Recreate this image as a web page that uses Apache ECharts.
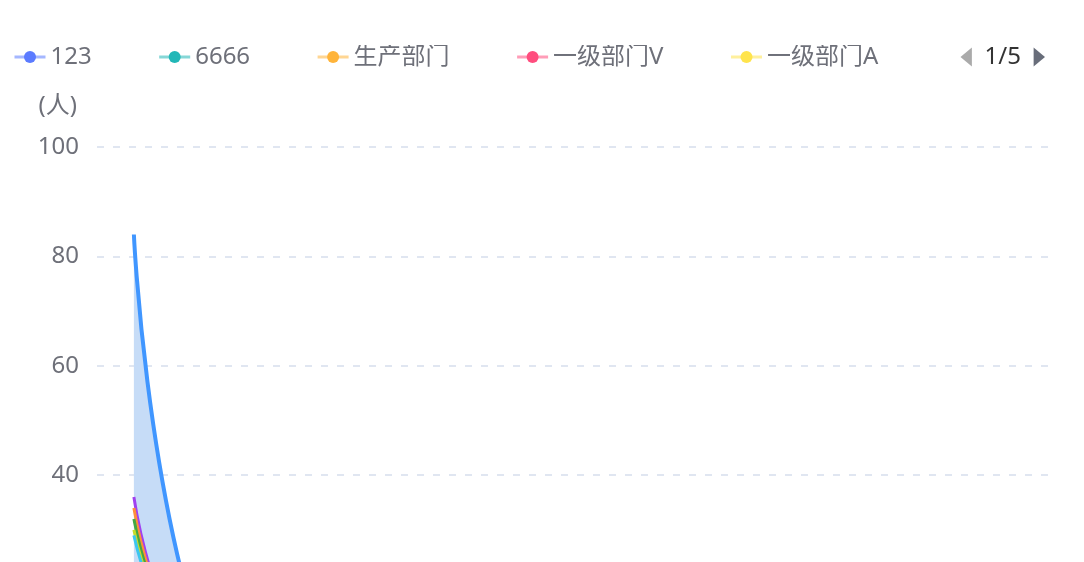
<!DOCTYPE html>
<html>
<head>
<meta charset="utf-8">
<script src="https://cdn.jsdelivr.net/npm/echarts@6/dist/echarts.min.js"></script>
<style>
html,body{margin:0;padding:0;overflow:hidden;background:#fff;}
#chart{width:1084px;height:760px;}
</style>
</head>
<body>
<div id="chart"></div>
<script>
// categories (x axis, hidden below the visible area)
const categories = ['1月','2月','3月','4月','5月','6月','7月','8月','9月','10月','11月','12月','13月'];
const yTicks = {min: 0, max: 100, interval: 20};
const yName = '(人)';

// series names (legend is paged: 1/5)
const seriesNames = ['123','6666','生产部门','一级部门V','一级部门A',
  '人事部门','财务部门','销售部门','市场部门','研发部门',
  '技术部门','质量部门','采购部门','物流部门','行政部门',
  '客服部门','法务部门','设计部门','运营部门','仓储部门'];
const seriesColors = ['#5b7bff','#22b7b7','#ffb43a','#ff4d7e','#ffe44d',
  '#4096ff','#a040f0','#ff8f3a','#43a843','#c7dc2a',
  '#3cc6ef','#8d6e63','#ff7aa8','#7b68ee','#26a69a',
  '#ef5350','#78909c','#ab47bc','#66bb6a','#ffa726'];
// first two values read/; later values fall below the visible area
const firstValues = [12,10,8,6,5,
  84,36,34,32,30,
  29,4,3,3,2,
  2,2,1,1,1];
const secondValues = [1,1,1,1,1,
  6,3,3,3,3,
  3,0,0,0,0,
  0,0,0,0,0];
const restValues = [0,0,0,0,0,0,0,0,0,0,0];

const FONT = "'Noto Sans','Noto Sans CJK SC',sans-serif";
const chart = echarts.init(document.getElementById('chart'));
const series = seriesNames.map((name, i) => {
  const isArea = i === 5;
  return {
    name: name,
    type: 'line',
    smooth: true,
    symbol: 'circle',
    showSymbol: false,
    z: isArea ? 1 : 2,
    data: [firstValues[i], secondValues[i]].concat(restValues),
    itemStyle: {color: seriesColors[i]},
    lineStyle: {width: isArea ? 4 : 3, color: seriesColors[i]},
    areaStyle: isArea ? {color: '#c6dcf7', opacity: 1} : undefined
  };
});

chart.setOption({
  animation: false,
  textStyle: {fontFamily: FONT},
  legend: {
    type: 'scroll',
    left: 8,
    top: 40,
    width: 1032,
    itemWidth: 31,
    itemHeight: 15,
    itemGap: 66,
    lineStyle: {width: 3, opacity: 0.55},
    textStyle: {fontSize: 24, color: '#6e7079', fontFamily: FONT},
    pageIconSize: [12, 19],
    pageIconColor: '#686d7a',
    pageIconInactiveColor: '#aaaaaa',
    pageButtonItemGap: 1,
    pageTextStyle: {fontSize: 24, color: '#333333', fontFamily: FONT}
  },
  grid: {left: 97, right: 28, top: 147, bottom: 66},
  xAxis: {
    type: 'category',
    boundaryGap: true,
    data: categories,
    axisLine: {lineStyle: {color: '#e0e6f1'}},
    axisTick: {show: false},
    axisLabel: {fontSize: 24, color: '#6e7079'}
  },
  yAxis: {
    type: 'value',
    min: yTicks.min,
    max: yTicks.max,
    interval: yTicks.interval,
    name: yName,
    nameGap: 29,
    nameTextStyle: {fontSize: 24, color: '#6e7079', align: 'right', padding: [0, 20, 0, 0], fontFamily: FONT},
    axisLabel: {fontSize: 24, color: '#6e7079', margin: 18},
    splitLine: {lineStyle: {type: [7, 9], width: 2, color: '#e0e6f1'}}
  },
  series: series
});
</script>
</body>
</html>
